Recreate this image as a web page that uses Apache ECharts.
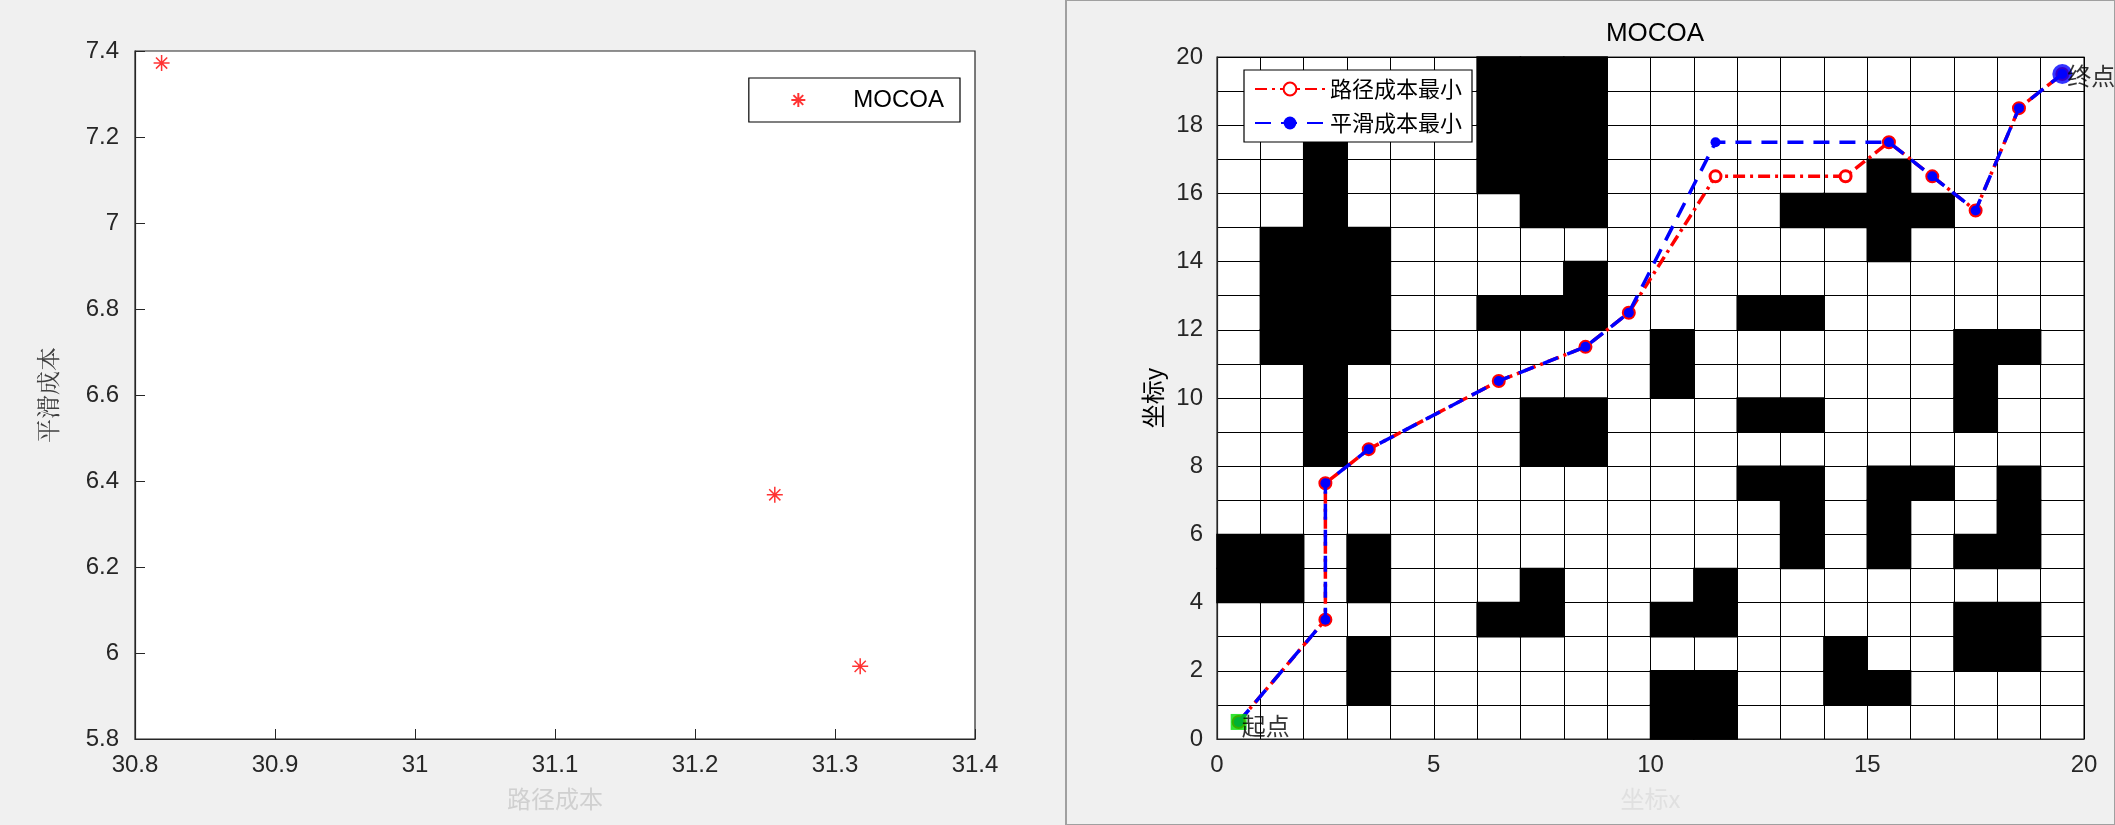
<!DOCTYPE html>
<html><head><meta charset="utf-8">
<script src="https://cdn.jsdelivr.net/npm/echarts@6/dist/echarts.min.js"></script>
<style>html,body{margin:0;padding:0;background:#f0f0f0}#c{width:2115px;height:825px}</style>
</head><body><div id="c"></div>
<script>
// Left scatter: path cost vs smoothness cost
const paretoX = [30.819, 31.257, 31.318];
const paretoY = [7.372, 6.368, 5.969];
// Obstacle cells [col, row]
const obstacles = [
 [6,19],[7,19],[8,19],[6,18],[7,18],[8,18],[2,18],[6,17],[7,17],[8,17],[2,17],
 [2,16],[6,16],[7,16],[8,16],[15,16],
 [2,15],[7,15],[8,15],[13,15],[14,15],[15,15],[16,15],
 [1,14],[2,14],[3,14],[15,14],
 [1,13],[2,13],[3,13],[8,13],
 [1,12],[2,12],[3,12],[6,12],[7,12],[8,12],[12,12],[13,12],
 [1,11],[2,11],[3,11],[10,11],[17,11],[18,11],
 [2,10],[10,10],[17,10],
 [2,9],[7,9],[8,9],[12,9],[13,9],[17,9],
 [2,8],[7,8],[8,8],
 [12,7],[13,7],[15,7],[16,7],[18,7],
 [13,6],[15,6],[18,6],
 [0,5],[1,5],[3,5],[13,5],[15,5],[17,5],[18,5],
 [0,4],[1,4],[3,4],[7,4],[11,4],
 [6,3],[7,3],[10,3],[11,3],[17,3],[18,3],
 [3,2],[14,2],[17,2],[18,2],
 [3,1],[10,1],[11,1],[14,1],[15,1],
 [10,0],[11,0]
];
const pathCostX = [0.5,2.5,2.5,3.5,6.5,8.5,9.5,11.5,14.5,15.5,16.5,17.5,18.5,19.5];
const pathCostY = [0.5,3.5,7.5,8.5,10.5,11.5,12.5,16.5,16.5,17.5,16.5,15.5,18.5,19.5];
const smoothX = [0.5,2.5,2.5,3.5,6.5,8.5,9.5,11.5,15.5,16.5,17.5,18.5,19.5];
const smoothY = [0.5,3.5,7.5,8.5,10.5,11.5,12.5,17.5,17.5,16.5,15.5,18.5,19.5];
const startPt = [0.5,0.5], endPt = [19.5,19.5];

const zip=(a,b)=>a.map((v,i)=>[v,b[i]]);
const star='path://M0,-10L0,10M-10,0L10,0M-7,-7L7,7M-7,7L7,-7';
const F='Liberation Sans, Arial, sans-serif';
const axisCommon={axisLine:{onZero:false,lineStyle:{color:'#262626',width:1.2}},axisTick:{inside:true,length:10,lineStyle:{color:'#262626'}},axisLabel:{color:'#262626',fontSize:24,fontFamily:F}};
const chart=echarts.init(document.getElementById('c'));
chart.setOption({
 backgroundColor:'#f0f0f0',
 animation:false,
 title:{text:'MOCOA',left:1650,top:16,textAlign:'center',textStyle:{fontSize:26,fontWeight:'normal',color:'#000',fontFamily:F}},
 graphic:[
  {type:'rect',shape:{x:1066,y:0,width:1049,height:825},style:{fill:'#f0f0f0',stroke:'#a0a0a0',lineWidth:2},z:-10},
 ],
 legend:[
  {data:['MOCOA'],right:2115-960,top:78,orient:'vertical',backgroundColor:'#fff',borderColor:'#000',borderWidth:1.2,borderRadius:0,padding:[10,16,10,40],itemGap:10,itemWidth:20,textStyle:{fontSize:24,color:'#000',fontFamily:F,padding:[0,0,0,40]}},
  {data:['路径成本最小','平滑成本最小'],left:1244,top:70,orient:'vertical',backgroundColor:'#fff',borderColor:'#000',borderWidth:1.2,borderRadius:0,padding:[8,10,8,10],itemGap:12,itemWidth:70,itemHeight:16,textStyle:{fontSize:22,color:'#000',fontFamily:'Noto Sans CJK SC'}}
 ],
 grid:[
  {left:135,right:1140,top:51,bottom:86,show:true,backgroundColor:'#fff',borderColor:'#262626',borderWidth:1.2},
  {left:1217,right:31,top:57,bottom:86,show:true,backgroundColor:'#fff',borderColor:'#262626',borderWidth:1.2}
 ],
 xAxis:[
  Object.assign({},axisCommon,{gridIndex:0,type:'value',min:30.8,max:31.4,interval:0.1,splitLine:{show:false},name:'路径成本',nameLocation:'middle',nameGap:48,nameTextStyle:{fontSize:24,color:'#d0d0d0',fontFamily:'Noto Sans CJK SC'},axisLabel:Object.assign({},axisCommon.axisLabel,{margin:14,formatter:v=>String(+v.toFixed(1))})}),
  Object.assign({},axisCommon,{gridIndex:1,type:'value',min:0,max:20,interval:1,splitLine:{show:true,lineStyle:{color:'#000',width:1}},name:'坐标x',nameLocation:'middle',nameGap:48,nameTextStyle:{fontSize:24,color:'#e0e0e0',fontFamily:'Noto Sans CJK SC'},axisTick:{show:false},axisLabel:Object.assign({},axisCommon.axisLabel,{margin:14,formatter:v=>v%5===0?String(v):''})})
 ],
 yAxis:[
  Object.assign({},axisCommon,{gridIndex:0,type:'value',min:5.8,max:7.4,interval:0.2,splitLine:{show:false},name:'平滑成本',nameLocation:'middle',nameGap:75,nameTextStyle:{fontSize:24,color:'#404040',fontFamily:'Noto Serif CJK SC, Noto Sans CJK SC'},axisLabel:Object.assign({},axisCommon.axisLabel,{margin:16,formatter:v=>String(+v.toFixed(1))})}),
  Object.assign({},axisCommon,{gridIndex:1,type:'value',min:0,max:20,interval:1,splitLine:{show:true,lineStyle:{color:'#000',width:1}},name:'坐标y',nameLocation:'middle',nameGap:52,nameTextStyle:{fontSize:24,color:'#000',fontFamily:'Noto Sans CJK SC'},axisTick:{show:false},axisLabel:Object.assign({},axisCommon.axisLabel,{margin:14,formatter:v=>v%2===0?String(v):''})})
 ],
 series:[
  {name:'MOCOA',type:'scatter',xAxisIndex:0,yAxisIndex:0,data:zip(paretoX,paretoY),symbol:star,symbolSize:16,itemStyle:{color:'none',borderColor:'#ff0000',borderWidth:1.5}},
  {name:'obstacles',type:'custom',xAxisIndex:1,yAxisIndex:1,data:obstacles,z:3,
   renderItem:(p,api)=>{const a=api.coord([api.value(0),api.value(1)+1]);const b=api.coord([api.value(0)+1,api.value(1)]);
    return {type:'rect',shape:{x:a[0],y:a[1],width:b[0]-a[0],height:b[1]-a[1]},style:{fill:'#000',stroke:'#000',lineWidth:1.5}};}},
  {name:'路径成本最小',type:'line',xAxisIndex:1,yAxisIndex:1,data:zip(pathCostX,pathCostY),z:5,symbol:'circle',symbolSize:11,
   lineStyle:{color:'#ff0000',width:3.5,type:[12,5,3,5]},itemStyle:{color:'#fff',borderColor:'#ff0000',borderWidth:3}},
  {name:'平滑成本最小',type:'line',xAxisIndex:1,yAxisIndex:1,data:zip(smoothX,smoothY),z:6,symbol:'circle',symbolSize:10,
   lineStyle:{color:'#0000ff',width:3.5,type:[16,10]},itemStyle:{color:'#0000ff'}},
  {name:'start',type:'scatter',xAxisIndex:1,yAxisIndex:1,data:[startPt],symbol:'rect',symbolSize:16,z:7,itemStyle:{color:'#00dd00'},
   label:{show:true,formatter:'起点',position:'right',offset:[-10,4],fontSize:24,color:'#000',fontFamily:'Noto Sans CJK SC'}},
  {name:'end',type:'scatter',xAxisIndex:1,yAxisIndex:1,data:[endPt],symbol:'circle',symbolSize:20,z:7,itemStyle:{color:'#0000ff'},
   label:{show:true,formatter:'终点',position:'right',offset:[-10,2],fontSize:24,color:'#000',fontFamily:'Noto Sans CJK SC'}}
 ]
});
</script></body></html>
